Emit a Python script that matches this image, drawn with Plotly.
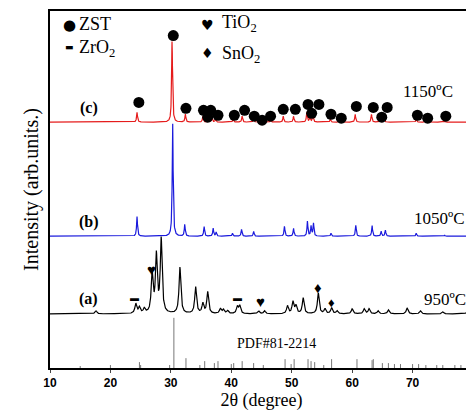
import numpy as np
import plotly.graph_objects as go

# y values expressed in a 0..363 "intensity" frame (offset traces)
c_pos = [24.4, 30.2, 32.4, 35.3, 36.3, 36.8, 37.4, 40.3, 41.8, 43.7, 45.2, 46.5, 48.6, 50.3, 52.5, 53.0, 53.5, 56.4, 58.0, 60.5, 63.2, 64.7, 65.3, 70.6, 72.4, 75.3]
c_h   = [10, 83, 8, 6, 4, 5, 3, 3, 6, 4, 2, 2, 6, 6, 10, 5, 8, 3, 2, 8, 8, 3, 4, 3, 2, 1]
b_pos = [24.4, 30.3, 32.3, 35.5, 37.0, 37.5, 40.2, 41.7, 43.7, 48.8, 50.3, 52.6, 53.2, 53.6, 56.5, 60.6, 63.3, 64.8, 65.5, 70.6, 75.3]
b_h   = [20, 115, 12, 10, 8, 4, 3, 7, 5, 10, 8, 15, 10, 13, 3, 11, 11, 5, 6, 3, 1]
a_pos = [17.6, 24.2, 24.8, 25.6, 26.9, 27.6, 28.4, 31.5, 34.1, 35.3, 36.1, 38.2, 38.7, 39.4, 41.0, 41.4, 44.5, 45.5, 49.3, 50.2, 50.7, 51.9, 54.4, 55.5, 56.6, 57.5, 60.0, 62.0, 62.8, 64.3, 66.0, 69.1, 71.3, 75.0, 79.0]
a_h   = [3, 10, 6, 5, 40, 58, 75, 47, 27, 10, 22, 5, 4, 3, 7, 8, 3, 3, 8, 12, 8, 16, 21, 5, 6, 3, 5, 5, 5, 3, 4, 6, 3, 2, 2]
ref_pos = [15, 20, 24.8, 25.0, 29.8, 30.5, 32.5, 34.8, 35.6, 37.2, 37.8, 40.0, 40.4, 41.8, 43.7, 45.3, 48.9, 49.9, 50.4, 52.7, 53.2, 53.8, 55.3, 56.6, 60.8, 63.3, 63.5, 65.0, 66.0, 67.0, 68.0, 70.0, 71.0, 72.2, 74.0, 75.0, 77.0, 78.0, 79.0, 79.6]
ref_h   = [2, 3, 6, 3, 3, 51, 10, 3, 7, 5, 7, 4, 5, 7, 5, 3, 9, 4, 9, 9, 7, 6, 3, 9, 9, 8, 9, 5, 5, 4, 4, 4, 4, 3, 3, 3, 3, 3, 3, 3]
zst_x = [24.7, 30.4, 32.5, 35.4, 36.6, 36.1, 37.8, 40.5, 42.2, 43.8, 45.1, 46.5, 48.6, 50.6, 52.7, 53.3, 54.5, 56.5, 58.2, 60.7, 63.5, 64.9, 65.8, 70.8, 72.5, 75.5]
zst_y = [270, 338, 264, 262, 262, 255, 257, 257, 262, 256, 252, 256, 263, 263, 268, 259, 268, 258, 254, 266, 265, 255, 265, 257, 254, 256]

x = np.linspace(10, 80, 3000)
def prof(pos, h, w, base):
    y = np.full_like(x, base)
    for p, hh in zip(pos, h):
        y += hh / (1 + ((x - p) / w) ** 2)
    return y

fig = go.Figure()
fig.add_trace(go.Scatter(x=x, y=prof(a_pos, a_h, 0.18, 55), mode="lines", line=dict(color="black", width=1.2)))
fig.add_trace(go.Scatter(x=x, y=prof(b_pos, b_h, 0.09, 134), mode="lines", line=dict(color="#1a1adc", width=1.2)))
fig.add_trace(go.Scatter(x=x, y=prof(c_pos, c_h, 0.09, 250), mode="lines", line=dict(color="#e51c1c", width=1.2)))
rx, ry = [], []
for p, h in zip(ref_pos, ref_h):
    rx += [p, p, None]; ry += [0, h, None]
fig.add_trace(go.Scatter(x=rx, y=ry, mode="lines", line=dict(color="#777", width=1)))
fig.add_trace(go.Scatter(x=zst_x, y=zst_y, mode="markers",
                         marker=dict(symbol="circle", color="black", opacity=1, size=11,
                                     line=dict(width=0))))

serif = "Liberation Serif"
ann = []
def t(xv, yv, s, size=16, bold=False, xa="center", fam=serif):
    ann.append(dict(x=xv, y=yv, text=("<b>%s</b>" % s) if bold else s, showarrow=False,
                    xref="x", yref="y", xanchor=xa, font=dict(family=fam, size=size, color="black")))
t(13.2, 349, "●", 15, fam="DejaVu Sans"); t(14.5, 350, "ZST", 18, xa="left")
t(13.2, 326, "▬", 9, fam="DejaVu Sans"); t(14.5, 325, "ZrO<sub>2</sub>", 18, xa="left")
t(36.1, 349, "♥", 14, fam="DejaVu Sans"); t(38.2, 350, "TiO<sub>2</sub>", 18, xa="left")
t(36.1, 320, "♦", 14, fam="DejaVu Sans"); t(38.2, 319, "SnO<sub>2</sub>", 18, xa="left")
t(16.4, 264, "(c)", 16, True); t(16.4, 148, "(b)", 16, True); t(16.4, 70, "(a)", 16, True)
t(72.5, 281, "1150ºC", 17); t(74.5, 152, "1050ºC", 17); t(75.3, 70, "950ºC", 17)
t(47.5, 25, "PDF#81-2214", 14)
ann.append(dict(x=24.0, y=72, text="▬", showarrow=False, font=dict(size=9, color="black")))
ann.append(dict(x=41.0, y=72, text="▬", showarrow=False, font=dict(size=9, color="black")))
ann.append(dict(x=26.8, y=101, text="♥", showarrow=False, font=dict(size=15, color="black")))
ann.append(dict(x=44.9, y=68, text="♥", showarrow=False, font=dict(size=15, color="black")))
ann.append(dict(x=54.3, y=82, text="♦", showarrow=False, font=dict(size=15, color="black")))
ann.append(dict(x=56.6, y=67, text="♦", showarrow=False, font=dict(size=13, color="black")))

fig.update_layout(
    width=474, height=410, margin=dict(l=42, r=9, t=1, b=50),
    plot_bgcolor="white", paper_bgcolor="white", showlegend=False, annotations=ann,
    xaxis=dict(range=[10, 80], tickvals=[10, 20, 30, 40, 50, 60, 70, 80], showgrid=False,
               showline=True, linecolor="black", linewidth=1.5, mirror=True, ticks="outside", ticklen=3,
               tickfont=dict(family="Liberation Sans", size=12, color="black", weight="bold"),
               title=dict(text="2θ (degree)", font=dict(family=serif, size=18, color="black"), standoff=2)),
    yaxis=dict(range=[0, 363], showticklabels=False, showgrid=False, zeroline=False,
               showline=True, linecolor="black", linewidth=1.5, mirror=True, ticks="",
               title=dict(text="Intensity (arb.units.)", font=dict(family=serif, size=20, color="black"), standoff=4)),
)
fig.write_html("out.html")
